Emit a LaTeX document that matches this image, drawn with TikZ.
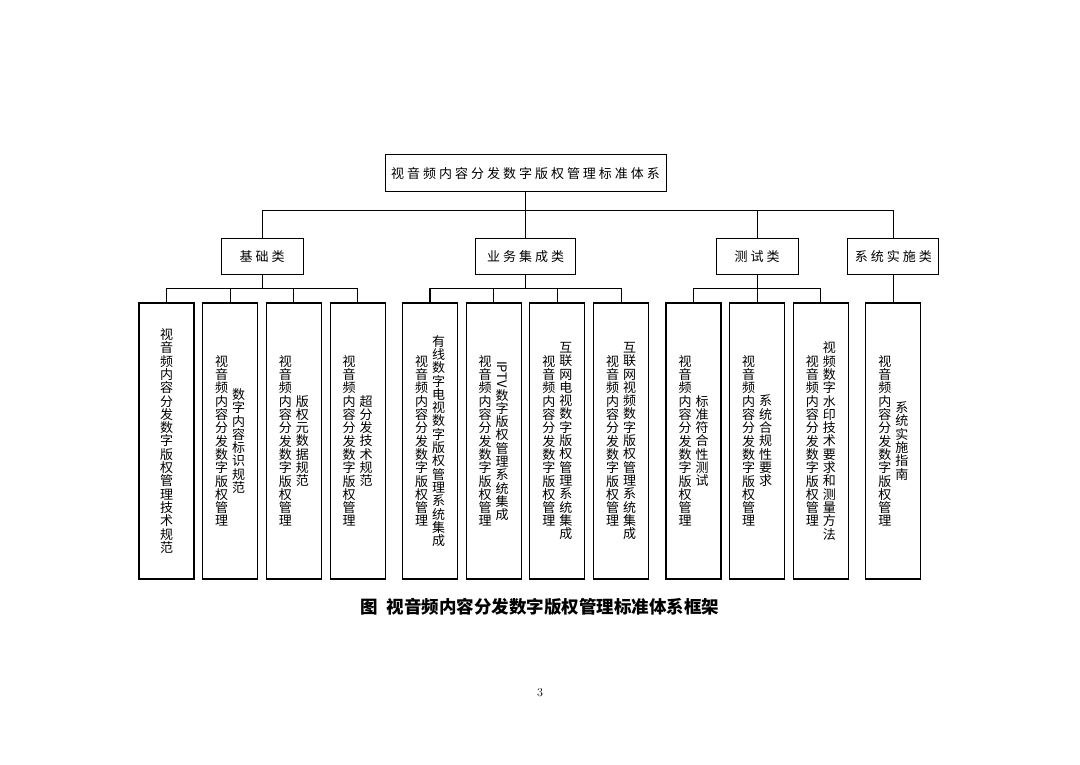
\documentclass[tikz,border=0pt]{standalone}
\usepackage{fontspec}
\usepackage{graphicx}
\newfontfamily\cjk{Noto Sans CJK SC}
\newfontfamily\cjkwide[LetterSpace=23]{Noto Sans CJK SC}
\usetikzlibrary{positioning, calc}
\XeTeXlinebreaklocale "zh"
\XeTeXlinebreakskip=0pt plus 1pt
\newcommand{\vcol}[1]{\parbox[c]{14pt}{\centering #1}}

\tikzset{
  rootbox/.style={draw, line width=1.1pt, minimum width=281pt, minimum height=37pt, inner sep=0pt, font=\cjkwide\fontsize{13}{15}\selectfont},
  catbox/.style={draw, line width=1.1pt, minimum height=36pt, inner sep=0pt, font=\cjkwide\fontsize{13}{15}\selectfont},
  leafbox/.style={draw, line width=1.1pt, minimum width=55pt, minimum height=276pt, inner sep=0pt, font=\cjk\fontsize{13}{13.3}\selectfont},
  link/.style={line width=1.1pt}
}

\begin{document}
\begin{tikzpicture}[x=1pt, y=1pt]
    \useasboundingbox (0,0) rectangle (1080,-764);
    \node[leafbox] (base1) at (166.5,-441) {\vcol{视音频内容分发数字版权管理技术规范}};
    \node[leafbox, right=7.6pt of base1] (base2) {\vcol{视音频内容分发数字版权管理}\hspace{3pt}\vcol{数字内容标识规范}};
    \node[leafbox, right=7.6pt of base2] (base3) {\vcol{视音频内容分发数字版权管理}\hspace{3pt}\vcol{版权元数据规范}};
    \node[leafbox, right=7.6pt of base3] (base4) {\vcol{视音频内容分发数字版权管理}\hspace{3pt}\vcol{超分发技术规范}};
    \node[leafbox, right=16.3pt of base4] (biz1) {\vcol{视音频内容分发数字版权管理}\hspace{3pt}\vcol{有线数字电视数字版权管理系统集成}};
    \node[leafbox, right=7.6pt of biz1] (biz2) {\vcol{视音频内容分发数字版权管理}\hspace{3pt}\vcol{\rotatebox{-90}{IPTV}\par 数字版权管理系统集成}};
    \node[leafbox, right=7.6pt of biz2] (biz3) {\vcol{视音频内容分发数字版权管理}\hspace{3pt}\vcol{互联网电视数字版权管理系统集成}};
    \node[leafbox, right=7.6pt of biz3] (biz4) {\vcol{视音频内容分发数字版权管理}\hspace{3pt}\vcol{互联网视频数字版权管理系统集成}};
    \node[leafbox, right=16.3pt of biz4] (test1) {\vcol{视音频内容分发数字版权管理}\hspace{3pt}\vcol{标准符合性测试}};
    \node[leafbox, right=7.6pt of test1] (test2) {\vcol{视音频内容分发数字版权管理}\hspace{3pt}\vcol{系统合规性要求}};
    \node[leafbox, right=7.6pt of test2] (test3) {\vcol{视音频内容分发数字版权管理}\hspace{3pt}\vcol{视频数字水印技术要求和测量方法}};
    \node[leafbox, right=16.3pt of test3] (impl1) {\vcol{视音频内容分发数字版权管理}\hspace{3pt}\vcol{系统实施指南}};

    \coordinate (g1) at ($(base1.north)!0.5!(base4.north)$);
    \coordinate (g2) at ($(biz1.north)!0.5!(biz4.north)$);
    \node[catbox, minimum width=82pt, above=27pt of g1] (base) {基础类};
    \node[catbox, minimum width=100pt, above=27pt of g2] (biz) {业务集成类};
    \node[catbox, minimum width=82pt, above=27pt of test2.north] (test) {测试类};
    \node[catbox, minimum width=91pt, above=27pt of impl1.north] (impl) {系统实施类};
    \node[rootbox, above=46pt of biz] (root) {视音频内容分发数字版权管理标准体系};

    \foreach \c in {base,biz,test,impl}
        \draw[link] (root.south) -- ++(0,-18) -| (\c.north);
    \foreach \l in {base1,base2,base3,base4}
        \draw[link] (base.south) -- ++(0,-13) -| (\l.north);
    \foreach \l in {biz1,biz2,biz3,biz4}
        \draw[link] (biz.south) -- ++(0,-13) -| (\l.north);
    \foreach \l in {test1,test2,test3}
        \draw[link] (test.south) -- ++(0,-13) -| (\l.north);
    \draw[link] (impl.south) -- (impl1.north);

    \node[font=\cjk\bfseries\fontsize{17.5}{20}\selectfont] (caption) at (540,-607) {图\hspace{9pt}视音频内容分发数字版权管理标准体系框架};
    \node[font=\fontsize{12}{14}\selectfont] (pagenum) at (540,-693) {3};
\end{tikzpicture}
\end{document}
